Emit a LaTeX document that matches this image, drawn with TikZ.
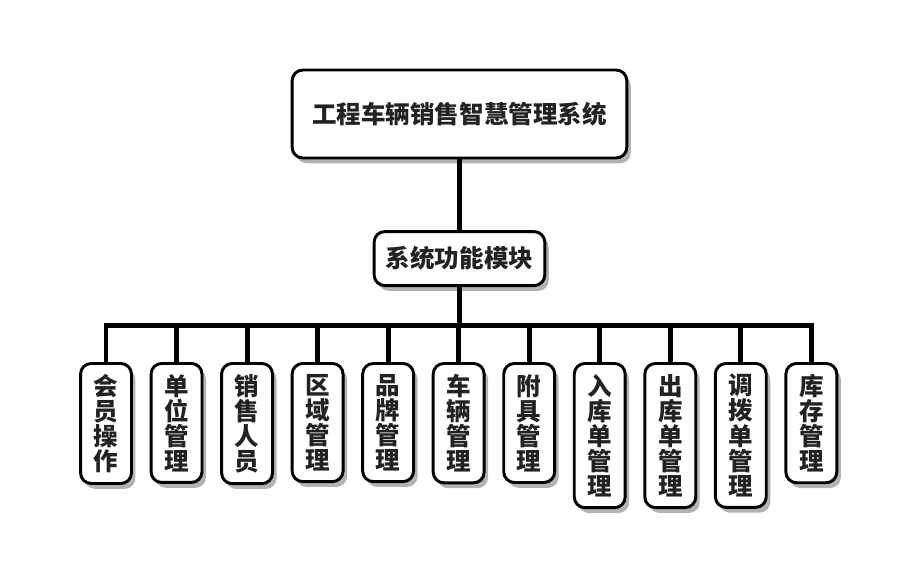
\documentclass[tikz,border=0pt]{standalone}
\usepackage{fontspec}
\newfontfamily\cjk{Noto Sans CJK SC}
\usepackage{tikz}
\usetikzlibrary{positioning,shadows}
\definecolor{txt}{HTML}{222222}

\begin{document}
\begin{tikzpicture}[
    node distance=12.5pt,
    box/.style={draw=black, line width=2.2pt, rounded corners=8pt, fill=white, align=center,
      text=txt, font=\cjk\bfseries\fontsize{18.4}{18.8}\selectfont,
      drop shadow={shadow xshift=3pt, shadow yshift=-4pt, fill=black, opacity=0.3}},
    leaf/.style={box, text width=18.4pt, inner xsep=9.9pt, inner ysep=8pt, anchor=north},
    link/.style={line width=3.7pt, line join=miter}
  ]
    \useasboundingbox (0,0) rectangle (687.75pt,-437.25pt);
    \node[box, minimum width=251pt, minimum height=66pt] (sys) at (344.6pt,-85.5pt) {工程车辆销售智慧管理系统};
    \node[box, minimum width=128pt, minimum height=40.5pt, below=53pt of sys] (mod) {系统功能模块};
    \node[leaf] (l1) at (79.5pt,-271.5pt) {会\\员\\操\\作};
    \node[leaf, right=of l1.north east, anchor=north west] (l2) {单\\位\\管\\理};
    \node[leaf, right=of l2.north east, anchor=north west] (l3) {销\\售\\人\\员};
    \node[leaf, right=of l3.north east, anchor=north west] (l4) {区\\域\\管\\理};
    \node[leaf, right=of l4.north east, anchor=north west] (l5) {品\\牌\\管\\理};
    \node[leaf, right=of l5.north east, anchor=north west] (l6) {车\\辆\\管\\理};
    \node[leaf, right=of l6.north east, anchor=north west] (l7) {附\\具\\管\\理};
    \node[leaf, right=of l7.north east, anchor=north west] (l8) {入\\库\\单\\管\\理};
    \node[leaf, right=of l8.north east, anchor=north west] (l9) {出\\库\\单\\管\\理};
    \node[leaf, right=of l9.north east, anchor=north west] (l10) {调\\拨\\单\\管\\理};
    \node[leaf, right=of l10.north east, anchor=north west] (l11) {库\\存\\管\\理};
    \draw[link] (sys) -- (mod);
    \coordinate[below=28.5pt of mod.south] (bus);
    \draw[link] (l1.north) |- (bus) -| (l11.north);
    \draw[link] (mod.south) -- (bus);
    \draw[link] (l2.north) -- (l2.north |- bus);
    \draw[link] (l3.north) -- (l3.north |- bus);
    \draw[link] (l4.north) -- (l4.north |- bus);
    \draw[link] (l5.north) -- (l5.north |- bus);
    \draw[link] (l6.north) -- (l6.north |- bus);
    \draw[link] (l7.north) -- (l7.north |- bus);
    \draw[link] (l8.north) -- (l8.north |- bus);
    \draw[link] (l9.north) -- (l9.north |- bus);
    \draw[link] (l10.north) -- (l10.north |- bus);
  \end{tikzpicture}
\end{document}
